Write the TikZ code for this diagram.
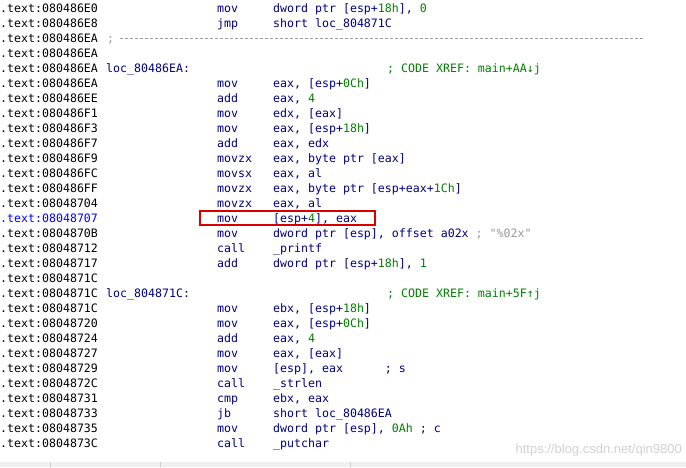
\documentclass[tikz,border=0pt]{standalone}
\usepackage{fontspec}
\setmonofont{DejaVu Sans Mono}
\newfontfamily\wmfont{Liberation Sans}
\definecolor{ins}{HTML}{000080}
\definecolor{num}{HTML}{008000}
\definecolor{gr}{HTML}{9A9A9A}
\definecolor{hl}{HTML}{0000FF}
\newcommand{\N}[1]{\textcolor{num}{#1}}
\begin{document}
\begin{tikzpicture}[x=1pt,y=-1pt,
  ln/.style={anchor=base west,inner sep=0pt,font=\ttfamily\fontsize{11.6}{12}\selectfont},
  addr/.style={ln,text=black},
  code/.style={ln,text=ins}]
\useasboundingbox (0,0) rectangle (686,467);
\fill[white] (0,0) rectangle (686,467);
\fill[black!6] (0,462) rectangle (686,467);
\foreach \x in {50,160,350} \draw[black!20] (\x,462)--(\x,467);
% addresses
\foreach \a [count=\i from 0] in {080486E0,080486E8,080486EA,080486EA,080486EA,080486EA,080486EE,080486F1,080486F3,080486F7,080486F9,080486FC,080486FF,08048704,,0804870B,08048712,08048717,0804871C,0804871C,0804871C,08048720,08048724,08048727,08048729,0804872C,08048731,08048733,08048735,0804873C}{
  \ifx\a\empty\else\node[addr] (a\i) at (0,{12+15*\i}) {.text:\a};\fi
}
\node[addr,text=hl] (a14) at (0,222) {.text:08048707};
% mnemonics
\foreach \i/\m in {0/mov,1/jmp,5/mov,6/add,7/mov,8/mov,9/add,10/movzx,11/movsx,12/movzx,13/movzx,14/mov,15/mov,16/call,17/add,20/mov,21/mov,22/add,23/mov,24/mov,25/call,26/cmp,27/jb,28/mov,29/call}{
  \node[code] (m\i) at (217,{12+15*\i}) {\m};
}
% operands
\newcommand{\op}[2]{\node[code] (o#1) at (273,{12+15*#1}) {#2};}
\op{0}{dword ptr [esp+\N{18h}], \N{0}}
\op{1}{short loc\_804871C}
\op{5}{eax, [esp+\N{0Ch}]}
\op{6}{eax, \N{4}}
\op{7}{edx, [eax]}
\op{8}{eax, [esp+\N{18h}]}
\op{9}{eax, edx}
\op{10}{eax, byte ptr [eax]}
\op{11}{eax, al}
\op{12}{eax, byte ptr [esp+eax+\N{1Ch}]}
\op{13}{eax, al}
\op{14}{[esp+\N{4}], eax}
\op{15}{dword ptr [esp], offset a02x \textcolor{gr}{; "\%02x"}}
\op{16}{\_printf}
\op{17}{dword ptr [esp+\N{18h}], \N{1}}
\op{20}{ebx, [esp+\N{18h}]}
\op{21}{eax, [esp+\N{0Ch}]}
\op{22}{eax, \N{4}}
\op{23}{eax, [eax]}
\op{24}{[esp], eax\ \ \ \ \ \ ; s}
\op{25}{\_strlen}
\op{26}{ebx, eax}
\op{27}{short loc\_80486EA}
\op{28}{dword ptr [esp], \N{0Ah} ; c}
\op{29}{\_putchar}
% labels and xrefs
\node[code] (l1) at (106,{12+15*4}) {loc\_80486EA:};
\node[code,text=num] (x1) at (387,{12+15*4}) {; CODE XREF: main+AA↓j};
\node[code] (l2) at (106,{12+15*19}) {loc\_804871C:};
\node[code,text=num] (x2) at (387,{12+15*19}) {; CODE XREF: main+5F↑j};
% separator
\node[code,text=gr] (sc) at (107,42) {;};
\draw[gr,dash pattern=on 3pt off 2pt] (120,38) -- (643,38);
% highlight
\draw[red!85!black,line width=1.6pt] (200,211) rectangle (375,225);
% watermark
\node[anchor=east,inner sep=0pt,text=black!18,font=\wmfont\fontsize{13}{14}\selectfont] (wm) at (682,450) {https://blog.csdn.net/qin9800};
\end{tikzpicture}
\end{document}
